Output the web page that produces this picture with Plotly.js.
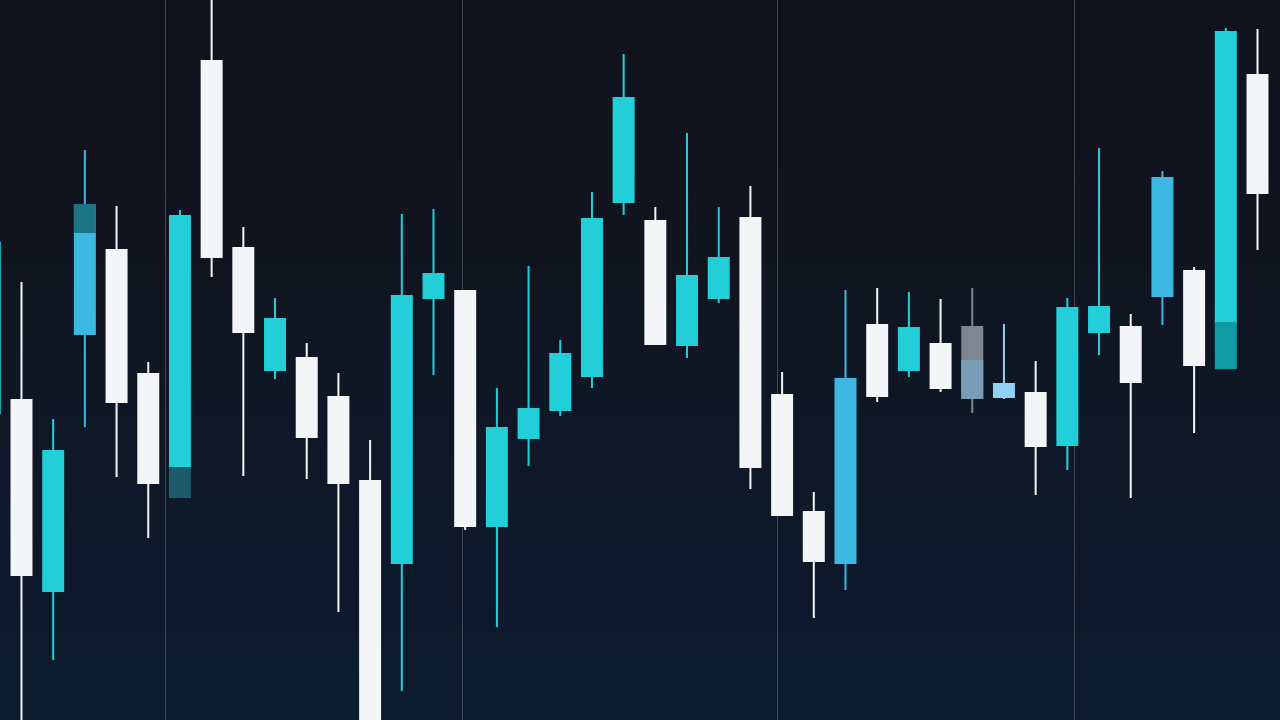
<!DOCTYPE html>
<html>
<head>
<meta charset="utf-8">
<script src="https://cdn.plot.ly/plotly-3.0.1.min.js"></script>
<style>
  html, body { margin: 0; padding: 0; width: 1280px; height: 720px; overflow: hidden; }
  body { background: linear-gradient(to bottom, #10131c 0%, #10141f 35%, #0e1828 65%, #0c1b2f 100%); }
  #chart { width: 1280px; height: 720px; }
</style>
</head>
<body>
<div id="chart"></div>
<script>
// Session index (x) and OHLC values
const idx   = [-1, 0, 1, 2, 3, 4, 5, 6, 7, 8, 9, 10, 11, 12, 13, 14, 15, 16, 17, 18, 19,
               20, 21, 22, 23, 24, 25, 26, 27, 28, 29, 30, 31, 32, 33, 34, 35, 36, 37, 38, 39];
const open  = [307, 320, 129, 386, 470, 346, 252, 659, 472, 350, 362, 323, 239, 157, 422, 429, 194, 282, 310, 344, 518,
               499, 375, 422, 502, 325, 208, 157, 395, 350, 376, 393, 323, 327, 275, 388, 393, 424, 449, 397, 645];
const high  = [477, 438, 301, 570, 514, 358, 510, 725, 493, 422, 377, 347, 280, 506, 511, 429, 332, 454, 380, 528, 666,
               513, 587, 513, 534, 348, 228, 430, 432, 428, 421, 432, 396, 359, 422, 572, 406, 549, 453, 692, 691];
const low   = [307, -10, 60, 293, 243, 182, 223, 443, 244, 341, 241, 108, -10, 29, 345, 190, 93, 254, 304, 332, 505,
               376, 362, 417, 231, 205, 102, 130, 318, 343, 328, 307, 321, 225, 250, 365, 222, 395, 287, 352, 470];
const close = [477, 145, 269, 515, 318, 237, 504, 463, 388, 401, 283, 237, -10, 424, 446, 194, 292, 311, 366, 501, 622,
               376, 444, 462, 253, 205, 159, 341, 324, 392, 332, 322, 336, 274, 412, 413, 338, 542, 355, 688, 527];
// candle colour family: c = cyan, w = white, b = blue, g = grey, s = sky
const tone  = ['c', 'w', 'c', 'b', 'w', 'w', 'c', 'w', 'w', 'c', 'w', 'w', 'w', 'c', 'c', 'w', 'c', 'c', 'c', 'c', 'c',
               'w', 'c', 'c', 'w', 'w', 'w', 'b', 'w', 'c', 'w', 'g', 's', 'w', 'c', 'c', 'w', 'b', 'w', 'c', 'w'];

// Faded (shaded) sections of some candle bodies
const shadeIdx    = [2, 5, 30, 38];
const shadeTop    = [515, 252, 359, 397];
const shadeBottom = [488, 223, 322, 352];
const shadeTone   = ['t1', 't2', 'gb', 't3'];

// Vertical guide lines (session separators)
const guideVals = [4.53, 13.9, 23.84, 33.21];

const palette = {
  c: '#22cfd9', w: '#f3f5f7', b: '#3cb8e3', g: '#7e8692', s: '#8fd2f5',
  t1: '#1d7482', t2: '#1d5a6b', t3: '#109ba3', gb: '#7b9cb8'
};

const traces = [];
['c', 'w', 'b', 'g', 's'].forEach(function (t) {
  const sel = [];
  tone.forEach(function (v, i) { if (v === t) sel.push(i); });
  const col = palette[t];
  traces.push({
    type: 'candlestick',
    x: sel.map(i => idx[i]),
    open: sel.map(i => open[i]),
    high: sel.map(i => high[i]),
    low: sel.map(i => low[i]),
    close: sel.map(i => close[i]),
    increasing: { line: { color: col, width: 2 }, fillcolor: col },
    decreasing: { line: { color: col, width: 2 }, fillcolor: col },
    hoverinfo: 'skip',
    showlegend: false
  });
});
shadeIdx.forEach(function (xi, k) {
  const col = palette[shadeTone[k]];
  traces.push({
    type: 'candlestick',
    x: [xi],
    open: [shadeBottom[k]],
    close: [shadeTop[k]],
    high: [shadeTop[k]],
    low: [shadeBottom[k]],
    increasing: { line: { color: col, width: 2 }, fillcolor: col },
    decreasing: { line: { color: col, width: 2 }, fillcolor: col },
    hoverinfo: 'skip',
    showlegend: false
  });
});

const layout = {
  width: 1280,
  height: 720,
  margin: { l: 0, r: 0, t: 0, b: 0, pad: 0 },
  paper_bgcolor: 'rgba(0,0,0,0)',
  plot_bgcolor: 'rgba(0,0,0,0)',
  showlegend: false,
  boxgap: 0.1,
  boxgroupgap: 0.3,
  xaxis: {
    range: [-0.678, 39.71],
    rangeslider: { visible: false },
    tickmode: 'array',
    tickvals: guideVals,
    showticklabels: false,
    ticks: '',
    showgrid: true,
    gridcolor: '#3f4653',
    gridwidth: 1,
    zeroline: false,
    showline: false
  },
  yaxis: {
    range: [0, 720],
    showgrid: false,
    showticklabels: false,
    ticks: '',
    zeroline: false,
    showline: false
  }
};

Plotly.newPlot('chart', traces, layout, { staticPlot: true, displayModeBar: false });
</script>
</body>
</html>
